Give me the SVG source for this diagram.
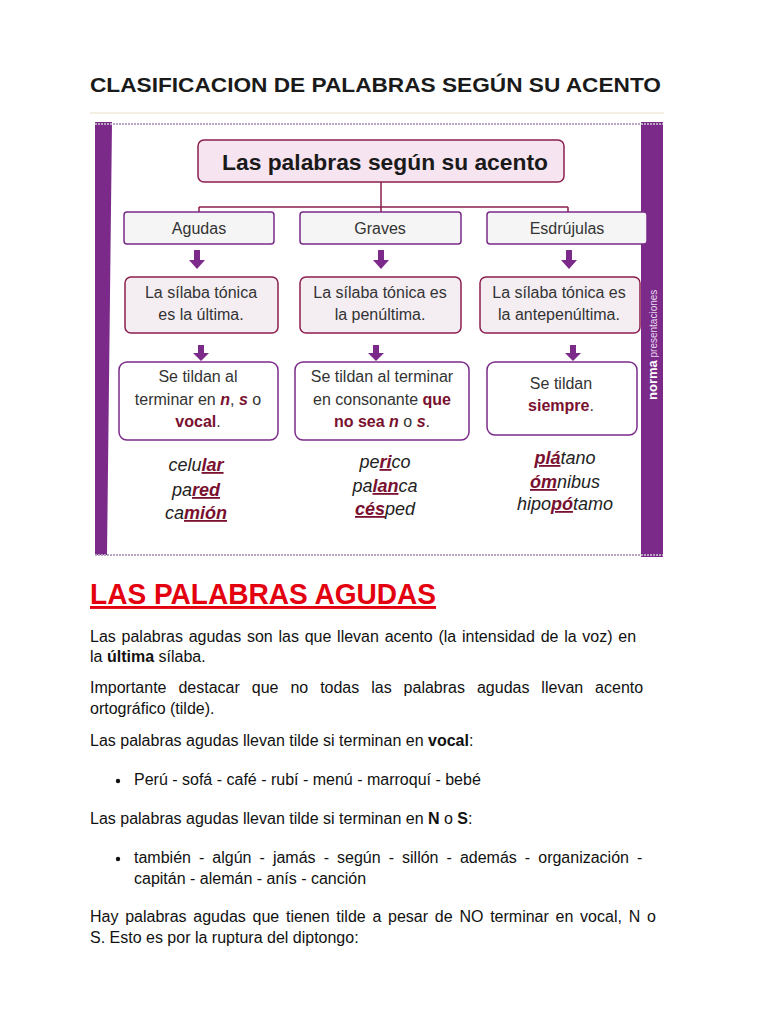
<svg xmlns="http://www.w3.org/2000/svg" width="768" height="1024" viewBox="0 0 768 1024">
<style>
text{font-family:"Liberation Sans",Arial,sans-serif;fill:#1a1a1a}
.b{fill:#f5f5f5;stroke:#7b2a8a;stroke-width:1.5}
.p{fill:#f6e4f1;stroke:#8b1f4e;stroke-width:1.5}
.w{fill:#fff;stroke:#7b2a8a;stroke-width:1.5}
.d{fill:#f4eef3;stroke:#8b1f4e;stroke-width:1.5}
.t{font-size:16px;text-anchor:middle;fill:#333}
.r{fill:#7a1030;font-weight:bold}
.i{font-size:18px;font-style:italic;text-anchor:middle;fill:#222}
.u{fill:#7a1030;font-weight:bold;text-decoration:underline}
.body{font-size:16px;fill:#111}
</style>
<rect width="768" height="1024" fill="#fff"/>
<text x="90" y="92" font-size="20" font-weight="bold" textLength="571" lengthAdjust="spacingAndGlyphs">CLASIFICACION DE PALABRAS SEGÚN SU ACENTO</text>
<line x1="90" y1="113" x2="664" y2="113" stroke="#e8e0c8" stroke-width="1"/>
<g id="image">
<rect x="95" y="122" width="568" height="435" fill="#fff"/>
<polygon points="95,122 112,122 107,555 95,555" fill="#7b2a8a"/>
<rect x="641" y="122" width="22" height="435" fill="#7b2a8a"/>
<line x1="95" y1="124" x2="663" y2="124" stroke="#b9a4c2" stroke-dasharray="2,1" stroke-width="2"/>
<line x1="95" y1="555" x2="663" y2="555" stroke="#b9a4c2" stroke-dasharray="2,1" stroke-width="2"/>
<text transform="translate(657,400) rotate(-90)" font-size="13" style="fill:#fff"><tspan font-weight="bold" style="fill:#fff">norma</tspan><tspan font-size="10" style="fill:#e8d8ee"> presentaciones</tspan></text>
</g>
<g id="connectors" stroke="#8b1f4e" stroke-width="1.5" fill="none">
<path d="M381,182 V207 M199,207 H568 M199,207 V212 M381,207 V212 M568,207 V212"/>
</g>
<g id="arrows" fill="#7b2a8a">
<path d="M194,250 h6 v10 h5 l-8,9 l-8,-9 h5z"/>
<path d="M378,250 h6 v10 h5 l-8,9 l-8,-9 h5z"/>
<path d="M566,250 h6 v10 h5 l-8,9 l-8,-9 h5z"/>
<path d="M198,345 h6 v8 h5 l-8,8 l-8,-8 h5z"/>
<path d="M373,345 h6 v8 h5 l-8,8 l-8,-8 h5z"/>
<path d="M570,345 h6 v8 h5 l-8,8 l-8,-8 h5z"/>
</g>
<g id="top"><rect class="p" x="198" y="140" width="366" height="42" rx="6"/><text x="222" y="170" font-size="22" font-weight="bold" fill="#222" textLength="326" lengthAdjust="spacingAndGlyphs">Las palabras según su acento</text></g>
<g id="agudas"><rect class="b" x="124" y="212" width="150" height="32" rx="3"/><text class="t" x="199" y="234" font-size="17">Agudas</text></g>
<g id="graves"><rect class="b" x="300" y="212" width="161" height="32" rx="3"/><text class="t" x="380" y="234" font-size="17">Graves</text></g>
<g id="esdrujulas"><rect class="b" x="487" y="212" width="160" height="32" rx="3"/><text class="t" x="567" y="234" font-size="17">Esdrújulas</text></g>
<g id="a2"><rect class="d" x="125" y="277" width="153" height="56" rx="6"/><text class="t" x="201" y="298">La sílaba tónica</text><text class="t" x="201" y="320">es la última.</text></g>
<g id="g2"><rect class="d" x="300" y="277" width="161" height="56" rx="6"/><text class="t" x="380" y="298">La sílaba tónica es</text><text class="t" x="380" y="320">la penúltima.</text></g>
<g id="e2"><rect class="d" x="480" y="277" width="160" height="56" rx="6"/><text class="t" x="559" y="298">La sílaba tónica es</text><text class="t" x="559" y="320">la antepenúltima.</text></g>
<g id="a3"><rect class="w" x="119" y="362" width="159" height="78" rx="8"/><text class="t" x="198" y="382">Se tildan al</text><text class="t" x="198" y="405">terminar en <tspan class="r" font-style="italic">n</tspan>, <tspan class="r" font-style="italic">s</tspan> o</text><text class="t" x="198" y="427"><tspan class="r">vocal</tspan>.</text></g>
<g id="g3"><rect class="w" x="295" y="362" width="174" height="78" rx="8"/><text class="t" x="382" y="382">Se tildan al terminar</text><text class="t" x="382" y="405">en consonante <tspan class="r">que</tspan></text><text class="t" x="382" y="427"><tspan class="r">no sea <tspan font-style="italic">n</tspan></tspan> o <tspan class="r" font-style="italic">s</tspan>.</text></g>
<g id="e3"><rect class="w" x="487" y="362" width="150" height="73" rx="8"/><text class="t" x="561" y="389">Se tildan</text><text class="t" x="561" y="411"><tspan class="r">siempre</tspan>.</text></g>
<g id="ex">
<text class="i" x="196" y="471">celu<tspan class="u">lar</tspan></text>
<text class="i" x="196" y="496">pa<tspan class="u">red</tspan></text>
<text class="i" x="196" y="519">ca<tspan class="u">mión</tspan></text>
<text class="i" x="385" y="468">pe<tspan class="u">ri</tspan>co</text>
<text class="i" x="385" y="492">pa<tspan class="u">lan</tspan>ca</text>
<text class="i" x="385" y="515"><tspan class="u">cés</tspan>ped</text>
<text class="i" x="565" y="464"><tspan class="u">plá</tspan>tano</text>
<text class="i" x="565" y="488"><tspan class="u">óm</tspan>nibus</text>
<text class="i" x="565" y="510">hipo<tspan class="u">pó</tspan>tamo</text>
</g>
<text x="90" y="604" font-size="29" font-weight="bold" style="fill:#e3000f" text-decoration="underline" textLength="346" lengthAdjust="spacingAndGlyphs">LAS PALABRAS AGUDAS</text>
<text class="body" x="90" y="642" word-spacing="1.3">Las palabras agudas son las que llevan acento (la intensidad de la voz) en</text>
<text class="body" x="90" y="662">la <tspan font-weight="bold">última</tspan> sílaba.</text>
<text class="body" x="90" y="693" word-spacing="7.5">Importante destacar que no todas las palabras agudas llevan acento</text>
<text class="body" x="90" y="714">ortográfico (tilde).</text>
<text class="body" x="90" y="746">Las palabras agudas llevan tilde si terminan en <tspan font-weight="bold">vocal</tspan>:</text>
<circle cx="118" cy="781" r="2.2" fill="#111"/>
<text class="body" x="134" y="785">Perú - sofá - café - rubí - menú - marroquí - bebé</text>
<text class="body" x="90" y="824">Las palabras agudas llevan tilde si terminan en <tspan font-weight="bold">N</tspan> o <tspan font-weight="bold">S</tspan>:</text>
<circle cx="118" cy="859" r="2.2" fill="#111"/>
<text class="body" x="134" y="863" word-spacing="3.6">también - algún - jamás - según - sillón - además - organización -</text>
<text class="body" x="134" y="884">capitán - alemán - anís - canción</text>
<text class="body" x="90" y="922" word-spacing="2.3">Hay palabras agudas que tienen tilde a pesar de NO terminar en vocal, N o</text>
<text class="body" x="90" y="943">S. Esto es por la ruptura del diptongo:</text>
</svg>
